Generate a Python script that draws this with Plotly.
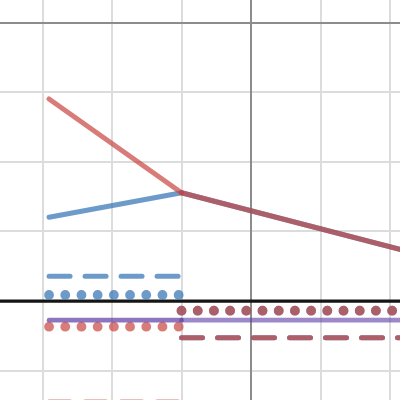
import plotly.graph_objects as go

# ---- data ----
x_left = [-2.906, -1.0]
x_right = [-1.0, 2.3]

blue_solid_left = [-2.796, -2.443]
red_solid_left = [-1.096, -2.443]
solid_right = [-2.443, -3.296]

blue_dash_left = [-3.644, -3.644]
red_dash_left = [-5.45, -5.45]
dash_right = [-4.526, -4.526]

blue_dot_left = [-3.912, -3.912]
red_dot_left = [-4.368, -4.368]
dot_right = [-4.138, -4.138]

purple_left = [-4.274, -4.274]
purple_right = [-4.274, -4.274]

black_x = [-4.0, 3.0]
black_y = [-4.0, -4.0]

BLUE = "rgba(45,112,179,0.7)"
RED = "rgba(199,68,64,0.7)"
PURPLE_L = "rgba(96,66,166,0.72)"
PURPLE_R = "rgba(96,66,166,0.62)"

DOT = "0px,16.2px"
DASH = "21px,15px"

fig = go.Figure()


def add(x, y, color, width, dash="solid"):
    fig.add_trace(go.Scatter(x=x, y=y, mode="lines",
                             line=dict(color=color, width=width, dash=dash),
                             hoverinfo="skip"))


add(black_x, black_y, "#151515", 3.3)

# blue series
add(x_left, blue_solid_left, BLUE, 5)
add(x_right, solid_right, BLUE, 5)
add(x_left, blue_dash_left, BLUE, 5, DASH)
add(x_right, dash_right, BLUE, 5, DASH)
add(x_left, blue_dot_left, BLUE, 9.8, DOT)
add(x_right, dot_right, BLUE, 9.8, DOT)

# red series
add(x_left, red_solid_left, RED, 5)
add(x_right, solid_right, RED, 5)
add(x_left, red_dash_left, RED, 5, DASH)
add(x_right, dash_right, RED, 5, DASH)
add(x_left, red_dot_left, RED, 9.8, DOT)
add(x_right, dot_right, RED, 9.8, DOT)

# purple
add(x_left, purple_left, PURPLE_L, 4.7)
add(x_right, purple_right, PURPLE_R, 4.7)

axis_common = dict(showgrid=True, gridcolor="#dcdcdc", gridwidth=1.6,
                   zeroline=True, zerolinecolor="#8c8c8c", zerolinewidth=2,
                   showticklabels=False, ticks="", dtick=1, tick0=0,
                   showline=False, fixedrange=True)

fig.update_layout(
    width=400, height=400,
    margin=dict(l=0, r=0, t=0, b=0),
    paper_bgcolor="white", plot_bgcolor="white",
    showlegend=False,
    xaxis=dict(range=[-3.612, 2.144], **axis_common),
    yaxis=dict(range=[-5.421, 0.326], **axis_common),
)

post = ("var s=document.createElement('style');"
        "s.innerHTML='html,body{margin:0 !important;padding:0 !important;overflow:hidden;}"
        ".js-line{stroke-linecap:round !important;stroke-linejoin:round !important;}';"
        "document.head.appendChild(s);")

fig.write_html("out.html", post_script=post, config={"displayModeBar": False})
